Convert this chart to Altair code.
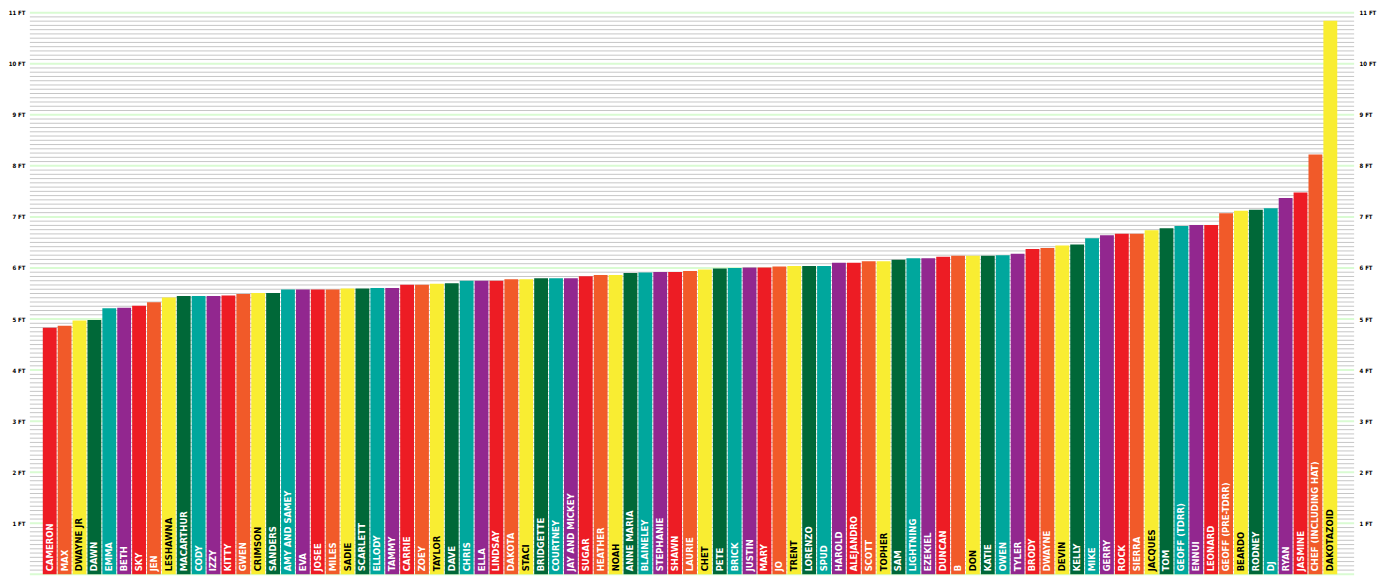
import altair as alt
import pandas as pd

NAMES = [
    "CAMERON", "MAX", "DWAYNE JR", "DAWN", "EMMA", "BETH", "SKY", "JEN",
    "LESHAWNA", "MACARTHUR", "CODY", "IZZY", "KITTY", "GWEN", "CRIMSON",
    "SANDERS", "AMY AND SAMEY", "EVA", "JOSEE", "MILES", "SADIE", "SCARLETT",
    "ELLODY", "TAMMY", "CARRIE", "ZOEY", "TAYLOR", "DAVE", "CHRIS", "ELLA",
    "LINDSAY", "DAKOTA", "STACI", "BRIDGETTE", "COURTNEY", "JAY AND MICKEY",
    "SUGAR", "HEATHER", "NOAH", "ANNE MARIA", "BLAINELEY", "STEPHANIE",
    "SHAWN", "LAURIE", "CHET", "PETE", "BRICK", "JUSTIN", "MARY", "JO",
    "TRENT", "LORENZO", "SPUD", "HAROLD", "ALEJANDRO", "SCOTT", "TOPHER",
    "SAM", "LIGHTNING", "EZEKIEL", "DUNCAN", "B", "DON", "KATIE", "OWEN",
    "TYLER", "BRODY", "DWAYNE", "DEVIN", "KELLY", "MIKE", "GERRY", "ROCK",
    "SIERRA", "JACQUES", "TOM", "GEOFF (TDRR)", "ENNUI", "LEONARD",
    "GEOFF (PRE-TDRR)", "BEARDO", "RODNEY", "DJ", "RYAN", "JASMINE",
    "CHEF (INCLUDING HAT)", "DAKOTAZOID",
]

HEIGHTS_FT = [
    4.83, 4.87, 4.97, 4.98, 5.21, 5.22, 5.26, 5.33,
    5.42, 5.45, 5.45, 5.45, 5.46, 5.49, 5.51,
    5.51, 5.58, 5.58, 5.58, 5.58, 5.60, 5.60,
    5.61, 5.61, 5.67, 5.67, 5.69, 5.70, 5.75, 5.75,
    5.75, 5.78, 5.78, 5.80, 5.80, 5.80,
    5.84, 5.86, 5.86, 5.90, 5.91, 5.92,
    5.92, 5.94, 5.97, 5.99, 6.00, 6.01, 6.01, 6.03,
    6.04, 6.04, 6.04, 6.10, 6.10, 6.13, 6.13,
    6.16, 6.19, 6.19, 6.22, 6.24, 6.24, 6.24, 6.25,
    6.28, 6.37, 6.39, 6.44, 6.46, 6.58, 6.64, 6.67,
    6.67, 6.74, 6.78, 6.82, 6.84, 6.84,
    7.07, 7.12, 7.14, 7.17, 7.37, 7.48,
    8.22, 10.84,
]

FOOT_TICKS = list(range(1, 12))
FOOT_LINES = list(range(0, 12))
INCH_LINES = [i / 12 for i in range(0, 133) if i % 12 != 0]

PALETTE = ["#ED1C24", "#F15A29", "#F9ED32", "#006838", "#00A79D", "#92278F"]

df = pd.DataFrame({"name": NAMES, "height": HEIGHTS_FT})
df["slot"] = [i % len(PALETTE) for i in range(len(df))]
df["base"] = 0

W, H = 1332, 565
FONT = "DejaVu Sans Condensed, Liberation Sans Narrow, DejaVu Sans, sans-serif"

yscale = alt.Scale(domain=[0, 11], nice=False, zero=True)
xscale = alt.Scale(range=[13, 1315], paddingInner=0.07, paddingOuter=0)
xenc = alt.X("name:N", sort=NAMES, scale=xscale, axis=None)

axis_common = dict(
    values=FOOT_TICKS,
    labelExpr="datum.value + ' FT'",
    grid=False,
    ticks=False,
    domain=False,
    labelFont=FONT,
    labelFontSize=6,
    labelFontWeight="bold",
    labelColor="#000000",
    title=None,
)

inch_rules = alt.Chart(pd.DataFrame({"v": INCH_LINES})).mark_rule(
    color="#c6c6c6", strokeWidth=1
).encode(
    y=alt.Y("v:Q", scale=yscale, axis=None),
    x=alt.value(0),
    x2=alt.value(W),
)

foot_rules = alt.Chart(pd.DataFrame({"v": FOOT_LINES})).mark_rule(
    color="#d9fbd2", strokeWidth=2
).encode(
    y=alt.Y("v:Q", scale=yscale,
            axis=alt.Axis(orient="right", labelPadding=5, labelAlign="left", **axis_common)),
    x=alt.value(0),
    x2=alt.value(W),
)

bars = alt.Chart(df).mark_bar().encode(
    x=xenc,
    y=alt.Y("height:Q", scale=yscale,
            axis=alt.Axis(orient="left", labelPadding=5, labelAlign="right", **axis_common)),
    color=alt.Color("slot:O", scale=alt.Scale(domain=list(range(len(PALETTE))), range=PALETTE),
                    legend=None),
)

labels = alt.Chart(df).mark_text(
    angle=270, align="left", baseline="middle", dx=3,
    font=FONT, fontSize=9.5, fontWeight="bold",
).encode(
    x=xenc,
    y=alt.Y("base:Q", scale=yscale, axis=None),
    text="name:N",
    color=alt.condition("datum.slot === 2", alt.value("#000000"), alt.value("#ffffff")),
)

chart = alt.layer(inch_rules, foot_rules, bars, labels).resolve_scale(
    y="independent"
).properties(
    width=W,
    height=H,
    autosize=alt.AutoSizeParams(type="none"),
    padding={"left": 22, "top": 3, "right": 23, "bottom": 1},
    background="#ffffff",
).configure_view(stroke=None)

chart.save("out.html", embed_options={"renderer": "svg", "actions": False})
